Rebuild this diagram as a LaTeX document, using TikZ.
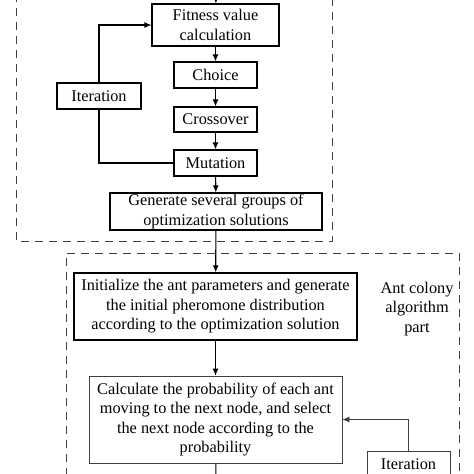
\documentclass[tikz,border=0pt]{standalone}
\usepackage{fontspec}
\setmainfont{Liberation Serif}
\usetikzlibrary{arrows.meta}
\usetikzlibrary{positioning}

\begin{document}
\begin{tikzpicture}[x=1pt,y=-1pt,
  box/.style={draw=black,line width=1.1pt,font=\fontsize{16.3}{19.5}\selectfont,align=center,inner sep=0pt},
  part/.style={draw=black!75,line width=1pt,dash pattern=on 8pt off 6pt},
  flow/.style={draw=black,line width=1.1pt,-{Latex[length=7pt,width=6pt]}},
  loop/.style={draw=black!75,line width=0.8pt,-{Latex[length=7pt,width=6pt]}}]
\useasboundingbox (0,0) rectangle (474,474);
% dashed parts
\draw[part] (16,-20) -- (16,241) -- (332,241) -- (332,-20);
\draw[part] (66,490) -- (66,253) -- (459,253) -- (459,490);

\node[box,minimum width=127pt,minimum height=42pt] (fit) at (215.5,25) {Fitness value\\calculation};
\node[box,minimum width=83pt,minimum height=26pt] (choice) at (215.5,75) {Choice};
\node[box,minimum width=83pt,minimum height=25pt] (cross) at (215.5,119.5) {Crossover};
\node[box,minimum width=83pt,minimum height=26pt] (mut) at (215.5,163) {Mutation};
\node[box,minimum width=84pt,minimum height=26pt] (iterA) at (99,96) {Iteration};
\node[box,minimum width=212pt,minimum height=37pt] (gen) at (216,211.5) {Generate several groups of\\optimization solutions};

\node[box,line width=1.4pt,minimum width=283pt,minimum height=67pt] (init) at (215.5,306.5) {Initialize the ant parameters and generate\\the initial pheromone distribution\\according to the optimization solution};
\node[box,draw=none] (antpart) at (417,309) {Ant colony\\algorithm\\part};
\node[box,draw=black!75,line width=0.8pt,minimum width=253pt,minimum height=87pt] (calc) at (215.5,419.5) {Calculate the probability of each ant\\moving to the next node, and select\\the next node according to the\\probability};
\node[box,draw=black!75,line width=0.8pt,minimum width=83pt,minimum height=26pt] (iterB) at (408.5,464) {Iteration};

\coordinate (top) at (216,-10);
\coordinate (bottom) at (216,490);

\draw[flow] (top) -- (fit);
\draw[flow] (fit) -- (choice);
\draw[flow] (choice) -- (cross);
\draw[flow] (cross) -- (mut);
\draw[flow] (mut) -- (gen);
\draw[flow] (gen) -- (init);
\draw[flow] (init) -- (calc);
\draw[flow,-] (calc) -- (bottom);

\draw[line width=1.1pt] (mut.west) -| (iterA.south);
\draw[flow] (iterA.north) |- (fit.west);
\draw[loop] (iterB.north) |- (calc.east);

\end{tikzpicture}
\end{document}
